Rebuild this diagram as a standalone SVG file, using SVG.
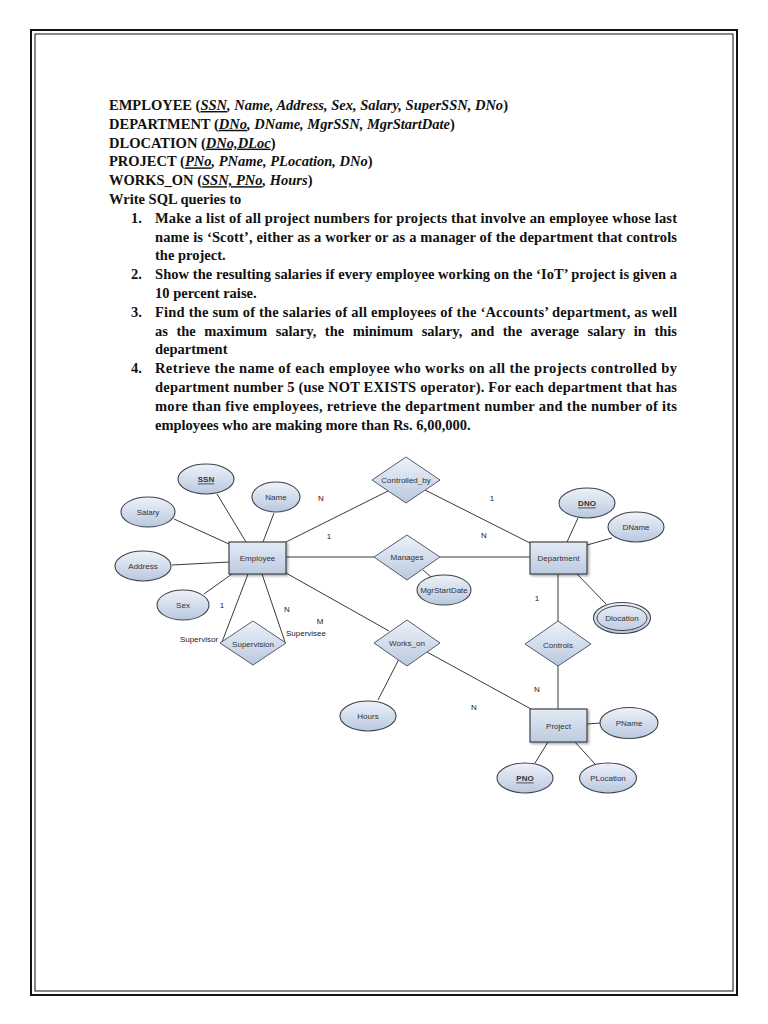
<svg xmlns="http://www.w3.org/2000/svg" width="768" height="1024" viewBox="0 0 768 1024">
<style>
.t{font-family:"Liberation Serif","Times New Roman",serif;font-weight:bold;font-size:14.5px;fill:#111}
.i{font-style:italic}
.u{text-decoration:underline}
.lbl{font-family:"Liberation Sans",Arial,sans-serif;font-size:8px;fill:#333;text-anchor:middle;dominant-baseline:central}
.key{font-weight:bold;text-decoration:underline}
.card{font-family:"Liberation Sans",Arial,sans-serif;font-size:8px;fill:#222;text-anchor:middle;dominant-baseline:central}
.ell{fill:url(#g);stroke:#3f444c;stroke-width:1.1}
.box{fill:url(#gb);stroke:#3f444c;stroke-width:1.2;filter:url(#sh)}
.dia{fill:url(#g);stroke:#555b68;stroke-width:1}
.ln{stroke:#3a3a3a;stroke-width:1;fill:none}
</style>
<defs>
<linearGradient id="g" x1="0" y1="0" x2="0" y2="1">
<stop offset="0" stop-color="#eef2fa"/>
<stop offset="1" stop-color="#b9c8df"/>
</linearGradient>
<linearGradient id="gb" x1="0" y1="0" x2="0" y2="1">
<stop offset="0" stop-color="#e3eaf5"/>
<stop offset="1" stop-color="#bccbe0"/>
</linearGradient>
<filter id="sh" x="-20%" y="-20%" width="150%" height="160%">
<feDropShadow dx="1.5" dy="1.5" stdDeviation="1" flood-color="#000" flood-opacity="0.35"/>
</filter>
</defs>
<rect width="768" height="1024" fill="#fff"/>
<!-- page border -->
<rect x="31" y="30" width="706" height="965" fill="none" stroke="#111" stroke-width="2"/>
<rect x="35" y="34" width="698" height="957" fill="none" stroke="#111" stroke-width="1"/>

<!-- text -->
<g id="schema">
<text class="t" x="109" y="110">EMPLOYEE (<tspan class="i u">SSN</tspan><tspan class="i">, Name, Address, Sex, Salary, SuperSSN, DNo</tspan>)</text>
<text class="t" x="109" y="128.8">DEPARTMENT (<tspan class="i u">DNo</tspan><tspan class="i">, DName, MgrSSN, MgrStartDate</tspan>)</text>
<text class="t" x="109" y="147.6">DLOCATION (<tspan class="i u">DNo,DLoc</tspan>)</text>
<text class="t" x="109" y="166.4">PROJECT (<tspan class="i u">PNo</tspan><tspan class="i">, PName, PLocation, DNo</tspan>)</text>
<text class="t" x="109" y="185.2">WORKS_ON (<tspan class="i u">SSN, PNo</tspan><tspan class="i">, Hours</tspan>)</text>
<text class="t" x="109" y="204">Write SQL queries to</text>
</g>
<g id="queries">
<text class="t" x="131" y="222.8">1.</text>
<text class="t" x="155" y="222.8" textLength="522" lengthAdjust="spacing">Make a list of all project numbers for projects that involve an employee whose last</text>
<text class="t" x="155" y="241.6" textLength="522" lengthAdjust="spacing">name is ‘Scott’, either as a worker or as a manager of the department that controls</text>
<text class="t" x="155" y="260.4">the project.</text>
<text class="t" x="131" y="279.2">2.</text>
<text class="t" x="155" y="279.2" textLength="522" lengthAdjust="spacing">Show the resulting salaries if every employee working on the ‘IoT’ project is given a</text>
<text class="t" x="155" y="298">10 percent raise.</text>
<text class="t" x="131" y="316.8">3.</text>
<text class="t" x="155" y="316.8" textLength="522" lengthAdjust="spacing">Find the sum of the salaries of all employees of the ‘Accounts’ department, as well</text>
<text class="t" x="155" y="335.6" style="word-spacing:4.9px">as the maximum salary, the minimum salary, and the average salary in this</text>
<text class="t" x="155" y="354.4">department</text>
<text class="t" x="131" y="373.2">4.</text>
<text class="t" x="155" y="373.2" textLength="522" lengthAdjust="spacing">Retrieve the name of each employee who works on all the projects controlled by</text>
<text class="t" x="155" y="392" textLength="522" lengthAdjust="spacing">department number 5 (use NOT EXISTS operator). For each department that has</text>
<text class="t" x="155" y="410.8" textLength="522" lengthAdjust="spacing">more than five employees, retrieve the department number and the number of its</text>
<text class="t" x="155" y="429.6">employees who are making more than Rs. 6,00,000.</text>
</g>

<!-- connectors -->
<g id="connectors">
<line class="ln" x1="217" y1="494" x2="246" y2="542"/>
<line class="ln" x1="274" y1="513" x2="263" y2="542"/>
<line class="ln" x1="174" y1="519" x2="229" y2="544"/>
<line class="ln" x1="172" y1="565" x2="229" y2="562"/>
<line class="ln" x1="204" y1="594" x2="232" y2="574"/>
<line class="ln" x1="248" y1="574" x2="222" y2="642"/>
<line class="ln" x1="262" y1="574" x2="285" y2="642"/>
<line class="ln" x1="286" y1="542" x2="390" y2="490"/>
<line class="ln" x1="286" y1="557" x2="374" y2="557"/>
<line class="ln" x1="286" y1="573" x2="389" y2="631"/>
<line class="ln" x1="425" y1="490" x2="530" y2="543"/>
<line class="ln" x1="440" y1="557" x2="530" y2="557"/>
<line class="ln" x1="423" y1="570" x2="431" y2="577"/>
<line class="ln" x1="578" y1="518" x2="567" y2="542"/>
<line class="ln" x1="612" y1="538" x2="587" y2="545"/>
<line class="ln" x1="576" y1="573" x2="606" y2="604"/>
<line class="ln" x1="558" y1="573" x2="558" y2="621"/>
<line class="ln" x1="399" y1="659" x2="378" y2="700"/>
<line class="ln" x1="427" y1="652" x2="531" y2="709"/>
<line class="ln" x1="558" y1="665" x2="558" y2="709"/>
<line class="ln" x1="587" y1="724" x2="601" y2="723"/>
<line class="ln" x1="548" y1="742" x2="535" y2="763"/>
<line class="ln" x1="575" y1="742" x2="595" y2="764"/>
</g>

<!-- cardinalities / roles -->
<g id="labels">
<text class="card" x="321" y="498">N</text>
<text class="card" x="329" y="536">1</text>
<text class="card" x="492" y="498">1</text>
<text class="card" x="484" y="535">N</text>
<text class="card" x="222" y="605">1</text>
<text class="card" x="287" y="609">N</text>
<text class="card" x="320" y="621">M</text>
<text class="card" x="537" y="598">1</text>
<text class="card" x="537" y="689">N</text>
<text class="card" x="474" y="707">N</text>
<text class="card" x="199" y="639">Supervisor</text>
<text class="card" x="306" y="633">Supervisee</text>
</g>

<!-- entities -->
<g id="employee"><rect class="box" x="229" y="542" width="57" height="32"/><text class="lbl" x="257.5" y="558">Employee</text></g>
<g id="department"><rect class="box" x="530" y="542" width="57" height="32"/><text class="lbl" x="558.5" y="558">Department</text></g>
<g id="project"><rect class="box" x="530" y="709" width="57" height="33"/><text class="lbl" x="558.5" y="726">Project</text></g>

<!-- relationships -->
<g id="controlled_by"><polygon class="dia" points="406,457 440,480 406,503 372,480"/><text class="lbl" x="406" y="480">Controlled_by</text></g>
<g id="manages"><polygon class="dia" points="407,535 440,557 407,580 374,557"/><text class="lbl" x="407" y="557">Manages</text></g>
<g id="works_on"><polygon class="dia" points="407,620 440,643 407,666 374,643"/><text class="lbl" x="407" y="643">Works_on</text></g>
<g id="controls"><polygon class="dia" points="558,621 591,644 558,666 525,644"/><text class="lbl" x="558" y="645">Controls</text></g>
<g id="supervision"><polygon class="dia" points="253,621 286,643 253,665 220,643"/><text class="lbl" x="253" y="644">Supervision</text></g>

<!-- attributes -->
<g id="ssn"><ellipse class="ell" cx="206" cy="479" rx="28" ry="15"/><text class="lbl key" x="206" y="479">SSN</text></g>
<g id="name"><ellipse class="ell" cx="276" cy="497" rx="24" ry="15"/><text class="lbl" x="276" y="497">Name</text></g>
<g id="salary"><ellipse class="ell" cx="148" cy="512" rx="27" ry="15"/><text class="lbl" x="148" y="512">Salary</text></g>
<g id="address"><ellipse class="ell" cx="143" cy="566" rx="28" ry="15"/><text class="lbl" x="143" y="566">Address</text></g>
<g id="sex"><ellipse class="ell" cx="183" cy="605" rx="26" ry="15"/><text class="lbl" x="183" y="605">Sex</text></g>
<g id="mgrstartdate"><ellipse class="ell" cx="444" cy="590" rx="27" ry="15"/><text class="lbl" x="444" y="590">MgrStartDate</text></g>
<g id="dno"><ellipse class="ell" cx="587" cy="503" rx="28" ry="15"/><text class="lbl key" x="587" y="503">DNO</text></g>
<g id="dname"><ellipse class="ell" cx="636" cy="527" rx="28" ry="15"/><text class="lbl" x="636" y="527">DName</text></g>
<g id="dlocation"><ellipse class="ell" cx="622" cy="618" rx="28.5" ry="15.5"/><ellipse cx="622" cy="618" rx="25" ry="12.5" fill="none" stroke="#3f444c" stroke-width="1"/><text class="lbl" x="622" y="618">Dlocation</text></g>
<g id="hours"><ellipse class="ell" cx="368" cy="716" rx="28" ry="15"/><text class="lbl" x="368" y="716">Hours</text></g>
<g id="pname"><ellipse class="ell" cx="629" cy="723" rx="29" ry="15.5"/><text class="lbl" x="629" y="723">PName</text></g>
<g id="pno"><ellipse class="ell" cx="525" cy="778" rx="28" ry="15"/><text class="lbl key" x="525" y="778">PNO</text></g>
<g id="plocation"><ellipse class="ell" cx="608" cy="778" rx="28.5" ry="15"/><text class="lbl" x="608" y="778">PLocation</text></g>
</svg>
